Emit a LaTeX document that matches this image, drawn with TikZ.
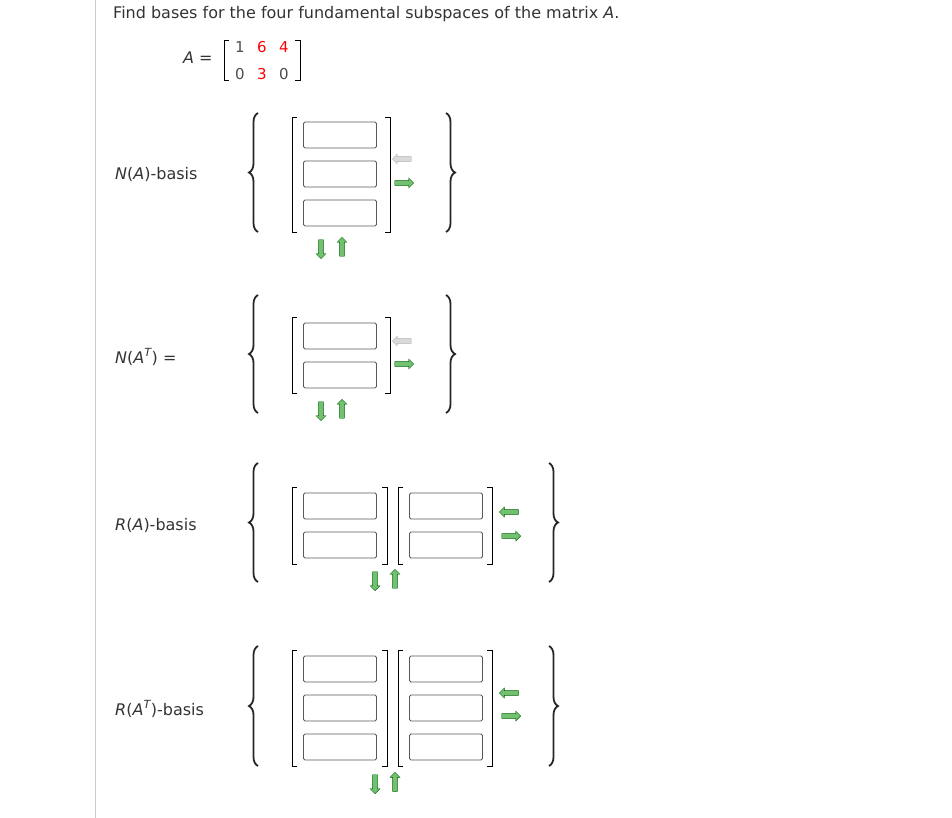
\documentclass[tikz,border=0pt]{standalone}
\usepackage{fontspec}
\setmainfont{DejaVu Sans}
\usetikzlibrary{shapes.arrows,decorations.pathreplacing}
\begin{document}
\begin{tikzpicture}[x=1pt,y=-1pt,
  txt/.style={inner sep=0pt,anchor=west,text=black!80,font=\fontsize{16}{18}\selectfont},
  ent/.style={inner sep=0pt,font=\rmfamily\fontsize{15}{17}\selectfont},
  ibox/.style={draw=black!65,line width=0.9pt,rounded corners=1.5pt,minimum width=73pt,minimum height=26pt,inner sep=0pt},
  brk/.style={draw=black,line width=0.8pt},
  brc/.style={draw=black!85,line width=1.8pt,decorate,decoration={brace,amplitude=9pt}},
  harr/.style={single arrow,draw=green!40!black,fill=green!55!black!55,minimum width=10pt,single arrow head extend=1.5pt,minimum height=19pt,inner sep=1.2pt},
  garr/.style={harr,draw=black!30,fill=black!15},
  varr/.style={harr,rotate=90}]
\useasboundingbox (0,0) rectangle (952,818);
\draw[black!20] (95,0) -- (95,818);
\node[txt] (title) at (113,14) {Find bases for the four fundamental subspaces of the matrix \textit{A}.};
\node[txt] (Aeq) at (183,58) {\textit{A} =};
\draw[brk] (229,40) -- (224,40) -- (224,80) -- (229,80);
\draw[brk] (295,40) -- (300,40) -- (300,80) -- (295,80);
\node[ent,text=black!70] (a11) at (240,47) {1};
\node[ent,text=red] (a12) at (262,47) {6};
\node[ent,text=red] (a13) at (284,47) {4};
\node[ent,text=black!70] (a21) at (240,74) {0};
\node[ent,text=red] (a22) at (262,74) {3};
\node[ent,text=black!70] (a23) at (284,74) {0};
% labels
\node[txt] (l1) at (115,174) {\textit{N}(\textit{A})-basis};
\node[txt] (l2) at (115,357) {\textit{N}(\textit{A}$^{\mathit{T}}$) =};
\node[txt] (l3) at (115,525) {\textit{R}(\textit{A})-basis};
\node[txt] (l4) at (115,709) {\textit{R}(\textit{A}$^{\mathit{T}}$)-basis};
% group 1
\draw[brc] (258,232) -- (258,113);
\draw[brc] (446,113) -- (446,232);
\draw[brk] (297,117) -- (292,117) -- (292,232) -- (297,232);
\draw[brk] (385,117) -- (390,117) -- (390,232) -- (385,232);
\node[ibox] (b11) at (340,135) {};
\node[ibox] (b12) at (340,174) {};
\node[ibox] (b13) at (340,213) {};
\node[garr,shape border rotate=180] (g1l) at (403,159) {};
\node[harr] (g1r) at (403,183) {};
\node[varr,shape border rotate=180] (g1d) at (321,248) {};
\node[varr] (g1u) at (342,248) {};
% group 2
\draw[brc] (258,413) -- (258,295);
\draw[brc] (446,295) -- (446,413);
\draw[brk] (297,317) -- (292,317) -- (292,393) -- (297,393);
\draw[brk] (385,317) -- (390,317) -- (390,393) -- (385,393);
\node[ibox] (b21) at (340,336) {};
\node[ibox] (b22) at (340,375) {};
\node[garr,shape border rotate=180] (g2l) at (403,341) {};
\node[harr] (g2r) at (403,364) {};
\node[varr,shape border rotate=180] (g2d) at (321,410) {};
\node[varr] (g2u) at (342,410) {};
% group 3
\draw[brc] (258,582) -- (258,463);
\draw[brc] (549,463) -- (549,582);
\draw[brk] (297,487) -- (292,487) -- (292,564) -- (297,564);
\draw[brk] (382,487) -- (387,487) -- (387,564) -- (382,564);
\draw[brk] (403,487) -- (398,487) -- (398,564) -- (403,564);
\draw[brk] (487,487) -- (492,487) -- (492,564) -- (487,564);
\node[ibox] (b31) at (340,506) {};
\node[ibox] (b32) at (340,545) {};
\node[ibox] (b33) at (446,506) {};
\node[ibox] (b34) at (446,545) {};
\node[harr,shape border rotate=180] (g3l) at (510,512) {};
\node[harr] (g3r) at (510,536) {};
\node[varr,shape border rotate=180] (g3d) at (375,580) {};
\node[varr] (g3u) at (395,580) {};
% group 4
\draw[brc] (258,766) -- (258,646);
\draw[brc] (549,646) -- (549,766);
\draw[brk] (297,650) -- (292,650) -- (292,766) -- (297,766);
\draw[brk] (382,650) -- (387,650) -- (387,766) -- (382,766);
\draw[brk] (403,650) -- (398,650) -- (398,766) -- (403,766);
\draw[brk] (487,650) -- (492,650) -- (492,766) -- (487,766);
\node[ibox] (b41) at (340,669) {};
\node[ibox] (b42) at (340,708) {};
\node[ibox] (b43) at (340,747) {};
\node[ibox] (b44) at (446,669) {};
\node[ibox] (b45) at (446,708) {};
\node[ibox] (b46) at (446,747) {};
\node[harr,shape border rotate=180] (g4l) at (510,693) {};
\node[harr] (g4r) at (510,716) {};
\node[varr,shape border rotate=180] (g4d) at (375,783) {};
\node[varr] (g4u) at (395,783) {};
\end{tikzpicture}
\end{document}
